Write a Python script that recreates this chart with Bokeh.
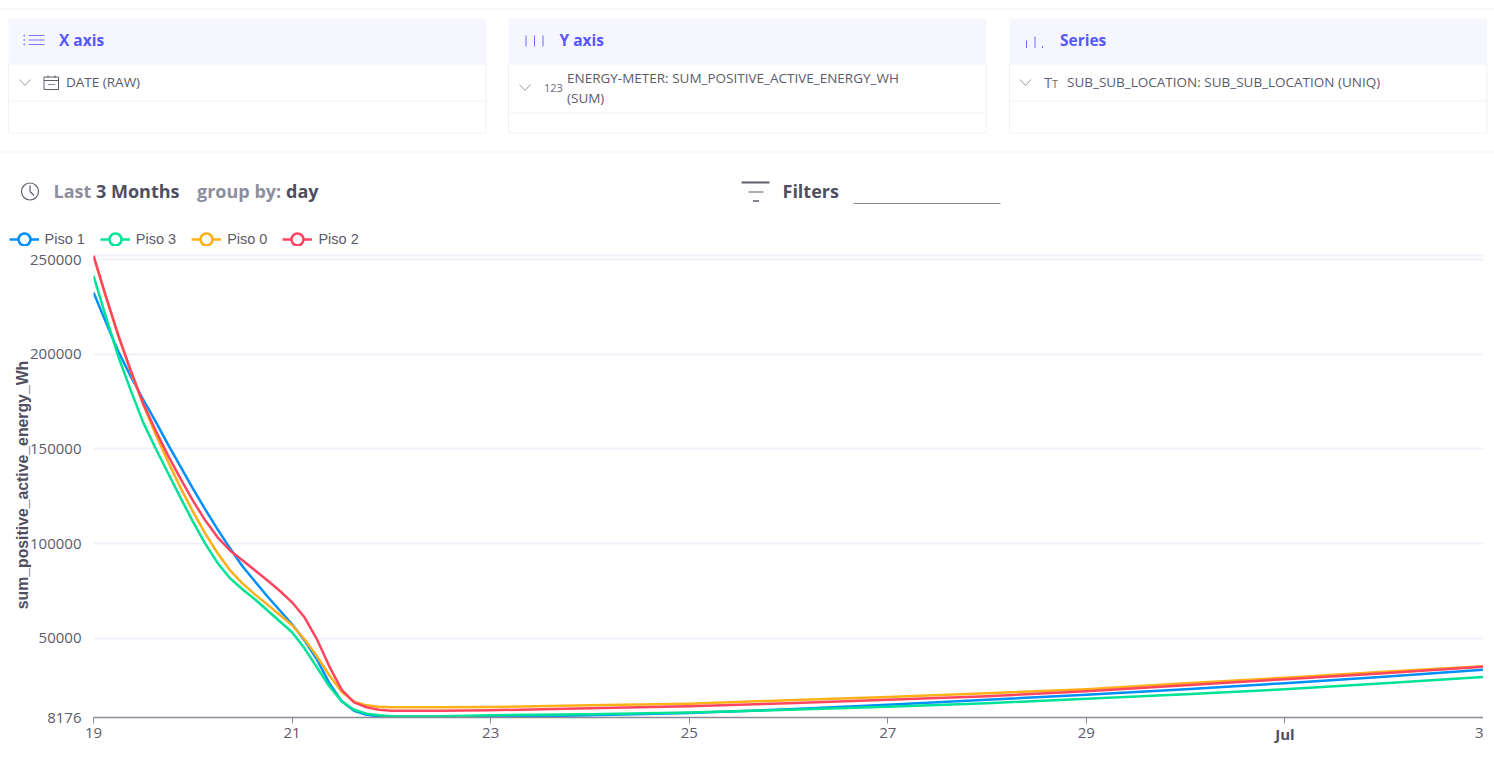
import math
import pandas as pd
from bokeh.core.properties import value
from bokeh.embed import file_html
from bokeh.models import ColumnDataSource, FixedTicker, Label, Legend, LegendItem, NumeralTickFormatter, Range1d
from bokeh.plotting import figure
from bokeh.resources import INLINE

# ------------------------- chart data -------------------------
timestamps = [
    "2024-06-19 00:00", "2024-06-19 03:00", "2024-06-19 06:00", "2024-06-19 09:00",
    "2024-06-19 12:00", "2024-06-19 15:00", "2024-06-19 18:00", "2024-06-19 21:00",
    "2024-06-20 00:00", "2024-06-20 03:00", "2024-06-20 06:00", "2024-06-20 09:00",
    "2024-06-20 12:00", "2024-06-20 15:00", "2024-06-20 18:00", "2024-06-20 21:00",
    "2024-06-21 00:00", "2024-06-21 03:00", "2024-06-21 06:00", "2024-06-21 09:00",
    "2024-06-21 12:00", "2024-06-21 15:00", "2024-06-21 18:00", "2024-06-21 21:00",
    "2024-06-22 00:00", "2024-06-22 12:00", "2024-06-23 00:00", "2024-06-24 00:00",
    "2024-06-25 00:00", "2024-06-26 00:00", "2024-06-27 00:00", "2024-06-28 00:00",
    "2024-06-29 00:00", "2024-06-30 00:00", "2024-07-01 00:00", "2024-07-02 00:00",
    "2024-07-03 00:00",
]
piso_1 = [232600, 216800, 201400, 188300, 176100, 164500, 152400, 140800,
          129200, 118100, 107500, 97500, 88000, 80100, 72200, 64800,
          57400, 48900, 38900, 26300, 16800, 11700, 9600, 8700,
          8300, 8300, 8400, 9400, 10600, 12500, 14900, 17500, 20200, 23100,
          26300, 29700, 33400]
piso_3 = [241300, 219900, 198800, 180900, 164000, 150300, 137300, 124400,
          111700, 100000, 89800, 81700, 75900, 70600, 64800, 59000,
          53200, 44700, 34700, 24700, 16800, 12300, 10200, 9400,
          8800, 8900, 9400, 9900, 10800, 12300, 13900, 15700, 18100, 20400,
          23100, 26300, 29600]
piso_0 = [251800, 230300, 209700, 190900, 173500, 157700, 143400, 129700,
          117000, 105400, 94900, 85900, 79000, 73200, 67900, 62400,
          56900, 49500, 40500, 30500, 21800, 16500, 14600, 13900,
          13600, 13600, 13700, 14600, 15500, 17300, 19000, 21000, 23100, 26300,
          29200, 32300, 35200]
piso_2 = [252100, 230500, 209900, 191400, 174000, 159800, 146600, 134400,
          122800, 112300, 103300, 96400, 91200, 85900, 80600, 75100,
          69000, 61100, 49500, 35200, 22800, 16200, 13600, 12300,
          11700, 11700, 12000, 13100, 14100, 15700, 17500, 19400, 22000, 25200,
          28400, 31500, 35000]
series_names = ["Piso 1", "Piso 3", "Piso 0", "Piso 2"]
y_ticks = [8176, 50000, 100000, 150000, 200000, 250000]
y_top_line = 252100
y_max = 253700
x_tick_dates = ["2024-06-19", "2024-06-21", "2024-06-23", "2024-06-25", "2024-06-27",
                "2024-06-29", "2024-07-01", "2024-07-03"]
x_tick_labels = ["19", "21", "23", "25", "27", "29", "", "3"]
bold_tick_date = "2024-07-01"
bold_tick_label = "Jul"
y_title = "sum_positive_active_energy_Wh"

BLUE, GREEN, ORANGE, RED = "#008FFB", "#00E396", "#FEB019", "#FF4560"
colors = [BLUE, GREEN, ORANGE, RED]
TEXT = "#5b5b6b"
ACCENT = "#5757ff"
BORDER = "#f0f1f5"

# ------------------------- header (page-pixel coordinates) -------------------------
top = figure(width=1494, height=246, x_range=Range1d(0, 1494), y_range=Range1d(246, 0),
             output_backend="svg", toolbar_location=None, min_border=0,
             x_axis_type=None, y_axis_type=None, outline_line_color=None)
top.xgrid.visible = False
top.ygrid.visible = False


def seg(x0, y0, x1, y1, color=TEXT, w=1.0):
    top.segment([x0], [y0], [x1], [y1], line_color=color, line_width=w)


def txt(x, y, s, size=13.5, color=TEXT, style="normal", font="Open Sans"):
    top.text([x], [y], text=[s], text_font=value(font), text_font_size=f"{size}px", text_color=color,
             text_font_style=style, text_align="left", text_baseline="middle")


seg(0, 8.5, 1494, 8.5, BORDER)
seg(0, 151.5, 1494, 151.5, BORDER)
panels = [(8, 485.5, 100.5), (508, 985.5, 112.5), (1009, 1486.5, 100.5)]
for x0, x1, row in panels:
    top.quad(left=[x0], right=[x1], top=[18], bottom=[63.5], fill_color="#f6f7fe", line_color=None)
    top.quad(left=[x0], right=[x1], top=[63.5], bottom=[132.5], fill_color=None, line_color=BORDER)
    seg(x0, row, x1, row, BORDER)

txt(58.5, 39, "X axis", 15.5, ACCENT, "bold")
txt(559, 39, "Y axis", 15.5, ACCENT, "bold")
txt(1059.5, 39, "Series", 15.5, ACCENT, "bold")
txt(65.5, 81, "DATE (RAW)")
txt(566.5, 77, "ENERGY-METER: SUM_POSITIVE_ACTIVE_ENERGY_WH")
txt(566.5, 97, "(SUM)")
txt(1066.5, 81, "SUB_SUB_LOCATION: SUB_SUB_LOCATION (UNIQ)")
txt(53, 190.5, "Last", 18, "#8e8e9e", "bold")
txt(95.5, 190.5, "3 Months", 18, "#4f4f5f", "bold")
txt(196.5, 190.5, "group by:", 18, "#8e8e9e", "bold")
txt(285.5, 190.5, "day", 18, "#4f4f5f", "bold")
txt(782, 190.5, "Filters", 18, "#4f4f5f", "bold")
seg(853, 203, 1000, 203, "#8a8a94")
txt(543.5, 87, "123", 11, "#6b6b78", "normal")
txt(1043.5, 81, "T", 15, "#6b6b78", "normal")
txt(1051.5, 82.5, "T", 11, "#6b6b78", "normal")

# icons
for y in (35, 39.5, 44):
    seg(28, y, 44, y, "#7777ff")
    seg(23, y, 24.5, y, "#7777ff", 1.5)
for x in (525.5, 534, 542.5):
    seg(x, 35, x, 46, "#6a6aff")
for x, y0 in ((1026, 40), (1034.5, 36), (1042, 45.5)):
    seg(x, y0, x, 47.5, "#6a6aff")
for cx, cy in ((24.5, 82), (524.5, 87), (1025, 82)):
    seg(cx - 5.5, cy - 3, cx, cy + 3, "#9a9aa6")
    seg(cx, cy + 3, cx + 5.5, cy - 3, "#9a9aa6")
top.quad(left=[43.5], right=[58], top=[76.5], bottom=[89], fill_color=None, line_color="#5f5f6c")
seg(43.5, 80, 58, 80, "#5f5f6c")
seg(47.5, 75, 47.5, 77.5, "#5f5f6c")
seg(54.5, 75, 54.5, 77.5, "#5f5f6c")
seg(47.5, 84, 54.5, 84, "#8a8a94")
top.scatter([29.5], [191], marker="circle", size=17, fill_color=None, line_color="#5f5f6c", line_width=1.2)
seg(29.5, 185, 29.5, 191, "#5f5f6c", 1.2)
seg(29.5, 191, 33.5, 195, "#5f5f6c", 1.2)
seg(741, 182, 769, 182, "#5f5f6c", 2)
seg(748, 191.5, 763, 191.5, "#5f5f6c", 1.2)
seg(752.5, 200.5, 758.5, 200.5, "#5f5f6c", 1.5)

# legend sits in the header figure; its entries draw nothing in the plot area (missing value)
items = []
for name, c in zip(series_names, colors):
    ln = top.line([0], [math.nan], line_color=c, line_width=2.5)
    mark = top.scatter([0], [math.nan], marker="circle", fill_color="white", line_color=c, line_width=2.5)
    items.append(LegendItem(label=name, renderers=[ln, mark]))
legend = Legend(items=items, orientation="horizontal", location=(8.5, -8), margin=0, padding=0,
                spacing=15, glyph_width=30, glyph_height=30, label_standoff=6,
                label_text_font="Liberation Sans", label_text_font_size="14.5px", label_text_color=TEXT,
                border_line_color=None, background_fill_alpha=0, label_height=14)
top.add_layout(legend, "center")

# ------------------------- chart -------------------------
dates = pd.to_datetime(timestamps)
tick_dt = pd.to_datetime(x_tick_dates)
tick_ms = [float(t.timestamp() * 1000) for t in tick_dt]

p = figure(width=1483, height=524, x_axis_type="datetime", output_backend="svg", toolbar_location=None,
           x_range=Range1d(tick_dt[0], tick_dt[-1]), y_range=Range1d(y_ticks[0], y_max),
           min_border_left=93, min_border_right=0, min_border_top=6, min_border_bottom=53,
           outline_line_color=None, background_fill_color="white")

source = ColumnDataSource(dict(date=dates, piso_1=piso_1, piso_3=piso_3, piso_0=piso_0, piso_2=piso_2))
keys = ["piso_1", "piso_3", "piso_0", "piso_2"]
for k, c in zip(keys, colors):
    p.line("date", k, source=source, line_color=c, line_width=2.5, line_join="round")

p.xgrid.visible = False
p.ygrid.grid_line_color = "#eff1f8"
p.ygrid.grid_line_width = 2

xa = p.xaxis[0]
xa.ticker = FixedTicker(ticks=tick_ms)
xa.major_label_overrides = {m: s for m, s in zip(tick_ms, x_tick_labels)}
xa.major_label_text_font = "Open Sans"
xa.major_label_text_font_size = "15px"
xa.major_label_text_color = TEXT
xa.major_label_standoff = 4
xa.axis_line_color = "#8a8a96"
xa.axis_line_width = 1.5
xa.major_tick_line_color = "#8a8a96"
xa.major_tick_in = 0
xa.major_tick_out = 6
xa.minor_tick_line_color = None

ya = p.yaxis[0]
ya.ticker = FixedTicker(ticks=y_ticks + [y_top_line])
ya.formatter = NumeralTickFormatter(format="0")
ya.major_label_overrides = {y_top_line: ""}
ya.major_label_text_font = "Open Sans"
ya.major_label_text_font_size = "15px"
ya.major_label_text_color = TEXT
ya.major_label_standoff = 6
ya.axis_line_color = None
ya.major_tick_line_color = None
ya.minor_tick_line_color = None
ya.axis_label = y_title
ya.axis_label_text_font = "Liberation Sans"
ya.axis_label_text_font_size = "15.8px"
ya.axis_label_text_font_style = "bold"
ya.axis_label_text_color = "#4f4f5f"
ya.axis_label_standoff = -4

p.add_layout(Label(x=pd.Timestamp(bold_tick_date), y=0, y_units="screen", text=bold_tick_label, y_offset=27,
                   text_align="center", text_baseline="middle", text_font="Open Sans",
                   text_font_size="15px", text_font_style="bold", text_color="#4f4f5f"), "below")

open("out.html", "w").write(file_html([top, p], INLINE))
